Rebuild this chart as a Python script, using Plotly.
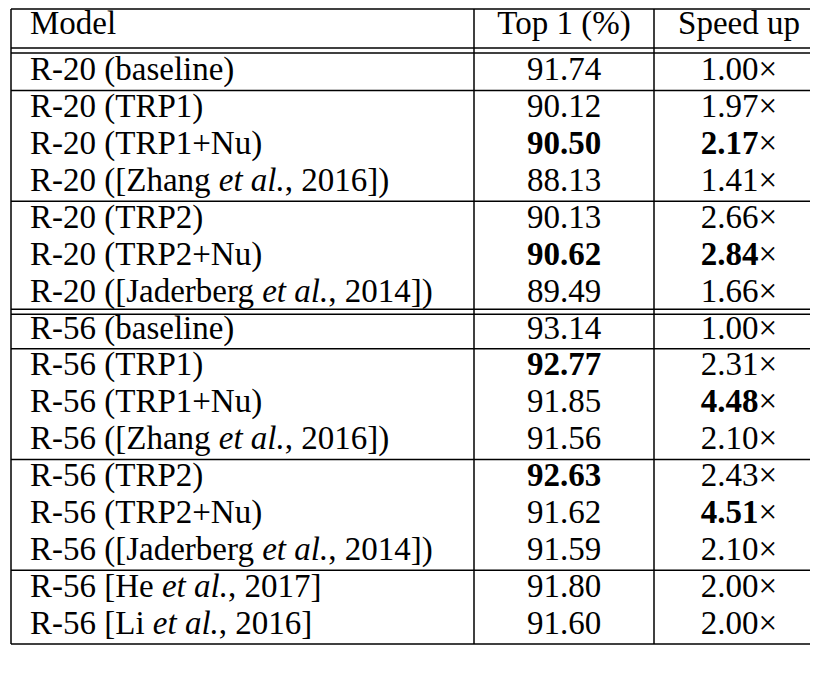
import plotly.graph_objects as go

header = ["Model", "Top 1 (%)", "Speed up"]
models = ["R-20 (baseline)", "R-20 (TRP1)", "R-20 (TRP1+Nu)", "R-20 ([Zhang <i>et al.</i>, 2016])",
          "R-20 (TRP2)", "R-20 (TRP2+Nu)", "R-20 ([Jaderberg <i>et al.</i>, 2014])",
          "R-56 (baseline)", "R-56 (TRP1)", "R-56 (TRP1+Nu)", "R-56 ([Zhang <i>et al.</i>, 2016])",
          "R-56 (TRP2)", "R-56 (TRP2+Nu)", "R-56 ([Jaderberg <i>et al.</i>, 2014])",
          "R-56 [He <i>et al.</i>, 2017]", "R-56 [Li <i>et al.</i>, 2016]"]
top1 = ["91.74", "90.12", "<b>90.50</b>", "88.13", "90.13", "<b>90.62</b>", "89.49",
        "93.14", "<b>92.77</b>", "91.85", "91.56", "<b>92.63</b>", "91.62", "91.59",
        "91.80", "91.60"]
speedup = ["1.00", "1.97", "<b>2.17</b>", "1.41", "2.66", "<b>2.84</b>", "1.66",
           "1.00", "2.31", "<b>4.48</b>", "2.10", "2.43", "<b>4.51</b>", "2.10",
           "2.00", "2.00"]
# row index after which a rule is drawn (double = True)
rules = [(0, False), (3, False), (6, True), (7, False), (10, False), (13, False)]

y0, dy = 64, 36.9
ys = [y0 + i * dy for i in range(len(models))]
font = dict(family="Liberation Serif, Times New Roman, serif", size=33, color="black")

fig = go.Figure()
fig.add_trace(go.Scatter(x=[22] * len(models), y=ys, text=models, mode="text",
                         textposition="middle right", textfont=font, cliponaxis=False))
fig.add_trace(go.Scatter(x=[556] * len(top1), y=ys, text=top1, mode="text",
                         textposition="middle center", textfont=font, cliponaxis=False))
fig.add_trace(go.Scatter(x=[731] * len(speedup), y=ys, text=[s + "×" for s in speedup],
                         mode="text", textposition="middle center", textfont=font,
                         cliponaxis=False))
fig.add_trace(go.Scatter(x=[22, 556, 731], y=[18] * 3, text=header, mode="text",
                         textposition=["middle right", "middle center", "middle center"],
                         textfont=font, cliponaxis=False))

line = dict(color="black", width=1.5)
xl, xr = 3, 815
bottom = y0 + dy * (len(models) - 0.5)
for x in [xl, 466, 646, xr]:
    fig.add_shape(type="line", x0=x, x1=x, y0=1, y1=bottom, line=line)
for y in [1, 40, 45, bottom]:
    fig.add_shape(type="line", x0=xl, x1=xr, y0=y, y1=y, line=line)
for i, dbl in rules:
    y = y0 + dy * (i + 0.5)
    if dbl:
        fig.add_shape(type="line", x0=xl, x1=xr, y0=y - 2.5, y1=y - 2.5, line=line)
        fig.add_shape(type="line", x0=xl, x1=xr, y0=y + 2.5, y1=y + 2.5, line=line)
    else:
        fig.add_shape(type="line", x0=xl, x1=xr, y0=y, y1=y, line=line)

fig.update_layout(width=818, height=676, autosize=False, margin=dict(l=0, r=0, t=0, b=0),
                  plot_bgcolor="white", paper_bgcolor="white", showlegend=False,
                  xaxis=dict(range=[0, 818], visible=False),
                  yaxis=dict(range=[676, 0], visible=False))
fig.write_html("out.html", config={"responsive": False})
